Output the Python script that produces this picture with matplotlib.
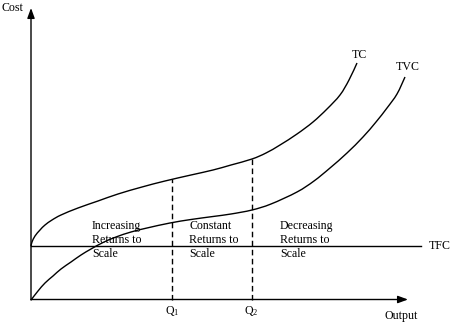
import numpy as np
import matplotlib
matplotlib.use("Agg")
import matplotlib.pyplot as plt
from matplotlib.path import Path
from matplotlib.patches import PathPatch

plt.rcParams['font.family'] = ['Liberation Serif', 'DejaVu Serif']
plt.rcParams['mathtext.fontset'] = 'custom'
plt.rcParams['mathtext.rm'] = 'Liberation Serif'
plt.rcParams['mathtext.it'] = 'Liberation Serif:italic'

# ---- data (output, cost) ----
tc_output = [0, 1, 4, 9, 14, 21, 30, 47, 67, 87, 111, 134, 160, 182, 200, 221,
             235, 249, 266, 282, 296, 309, 318, 326]
tc_cost = [54, 58, 64, 70, 75, 80, 85, 92, 99, 106, 113, 119, 125, 130, 135, 141,
           147, 155, 166, 178, 191, 205, 220, 237]

tvc_output = [0, 7, 14, 22, 30, 40, 50, 60, 72, 85, 100, 116, 139, 160, 182, 200,
              221, 240, 266, 283, 299, 316, 332, 345, 356, 366, 374]
tvc_cost = [0, 9, 17, 24, 31, 38, 45, 51, 57.5, 63, 68, 72, 77, 80.5, 83.5, 86,
            90, 96, 108, 119, 132, 147, 163, 178, 192, 206, 223]

tfc_value = 54
tfc_end = 390
q_outputs = [141, 220.5]
q_labels = ['Q$_{\\mathrm{1}}$', 'Q$_{\\mathrm{2}}$']
region_labels = ['Increasing\nReturns to\nScale',
                 'Constant\nReturns to\nScale',
                 'Decreasing\nReturns to\nScale']
region_x = [61, 158, 249]

fig = plt.figure(figsize=(4.5, 3.23), dpi=100)
ax = fig.add_axes([0, 0, 1, 1])
ax.set_xlim(-31, 419)
ax.set_ylim(-23, 300)
ax.axis('off')

fs = 8.6
lw = 1.0


def smooth_path(xs, ys):
    """Cubic Bezier path passing through the given points (Catmull-Rom tangents)."""
    p = np.column_stack([xs, ys]).astype(float)
    verts = [p[0]]
    codes = [Path.MOVETO]
    n = len(p)
    for i in range(n - 1):
        p0 = p[i - 1] if i > 0 else p[i]
        p1, p2 = p[i], p[i + 1]
        p3 = p[i + 2] if i + 2 < n else p[i + 1]
        c1 = p1 + (p2 - p0) / 6.0
        c2 = p2 - (p3 - p1) / 6.0
        verts += [c1, c2, p2]
        codes += [Path.CURVE4] * 3
    return Path(verts, codes)


# axes arrows
arrow = dict(arrowstyle='-|>,head_length=0.6,head_width=0.22', lw=lw,
             color='black', shrinkA=0, shrinkB=0, mutation_scale=10)
ax.annotate('', xy=(0, 292), xytext=(0, 0), arrowprops=arrow)
ax.annotate('', xy=(377, 0.5), xytext=(0, 0.5), arrowprops=arrow)

# curves
for xs, ys in [(tc_output, tc_cost), (tvc_output, tvc_cost)]:
    ax.add_patch(PathPatch(smooth_path(xs, ys), facecolor='none',
                           edgecolor='black', lw=lw))
ax.plot([0, tfc_end], [tfc_value, tfc_value], color='black', lw=lw)

# Q dashed lines
for q, lab in zip(q_outputs, q_labels):
    top = np.interp(q, tc_output, tc_cost)
    ax.plot([q, q], [0, top], color='black', lw=lw, dashes=(4, 2.5))
    ax.text(q, -11, lab, ha='center', va='center', fontsize=fs)

# labels
ax.text(-29, 292, 'Cost', ha='left', va='center', fontsize=fs)
ax.text(370, -16, 'Output', ha='center', va='center', fontsize=fs)
ax.text(328, 245, 'TC', ha='center', va='center', fontsize=fs)
ax.text(377, 233, 'TVC', ha='center', va='center', fontsize=fs)
ax.text(398, tfc_value, 'TFC', ha='left', va='center', fontsize=fs)

for x, lab in zip(region_x, region_labels):
    ax.text(x, 80, lab, ha='left', va='top', fontsize=fs, linespacing=1.2)

fig.savefig('out.png', dpi=100)
